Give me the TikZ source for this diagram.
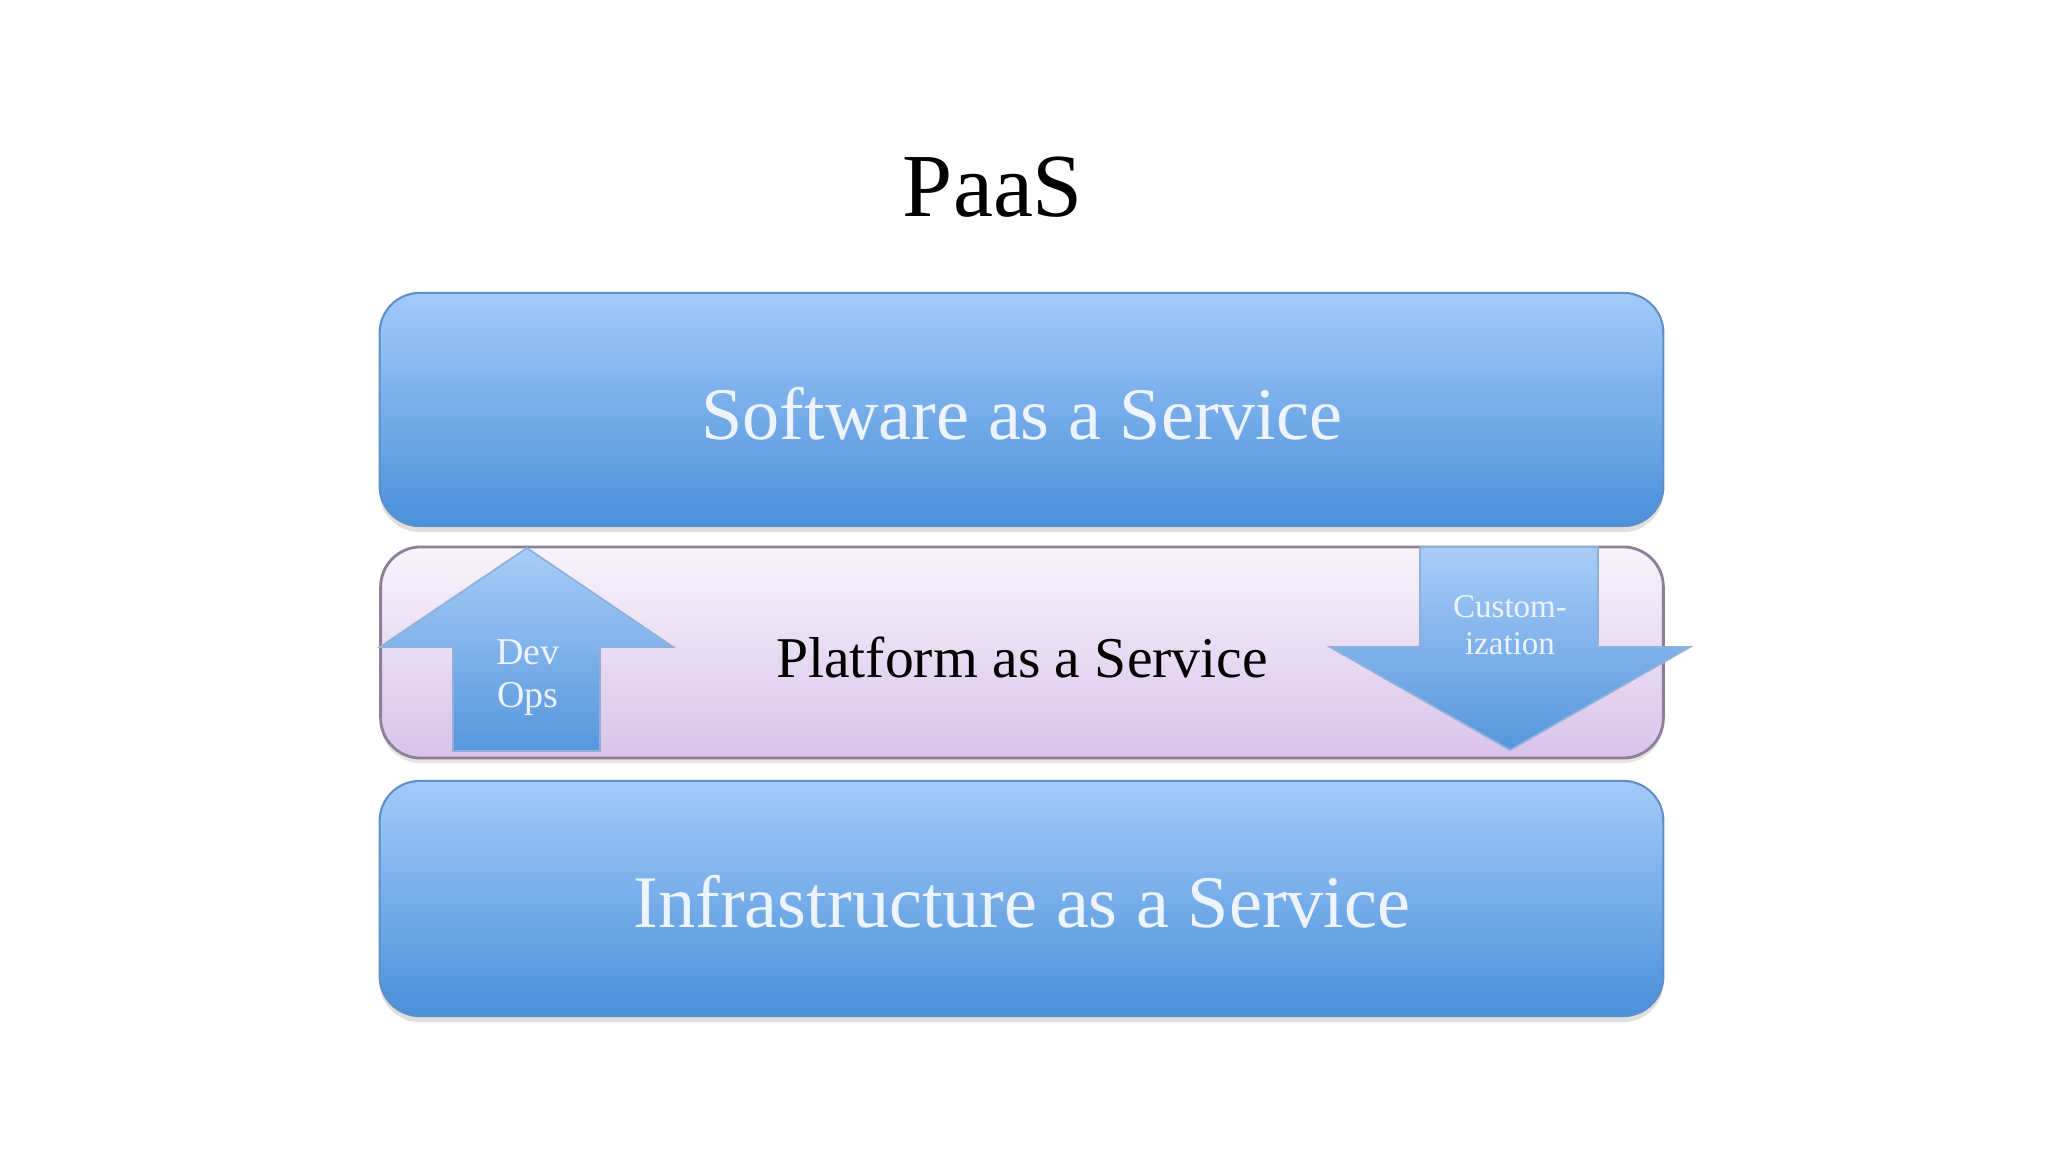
\documentclass[tikz,border=0pt]{standalone}
\usepackage{fontspec}
\setmainfont{Liberation Serif}
\usetikzlibrary{shadows}
\definecolor{bluetop}{HTML}{A3CAF9}
\definecolor{bluebot}{HTML}{4A90DA}
\definecolor{blueedge}{HTML}{5F8FC8}
\definecolor{lavtop}{HTML}{F8F4FB}
\definecolor{lavbot}{HTML}{D8C3EA}
\definecolor{lavedge}{HTML}{8C8098}
\definecolor{arrtop}{HTML}{A9CDF8}
\definecolor{arrbot}{HTML}{5596DD}
\definecolor{lighttext}{HTML}{EEF4FF}
\tikzset{
  layerbox/.style={rounded corners=0.4cm, draw=blueedge, line width=0.6pt,
    top color=bluetop, bottom color=bluebot, minimum width=12.83cm,
    text=lighttext, font=\fontsize{21.1}{24}\selectfont,
    drop shadow={opacity=0.25, shadow xshift=0pt, shadow yshift=-0.06cm}},
  midbox/.style={rounded corners=0.4cm, draw=lavedge, line width=0.8pt,
    top color=lavtop, bottom color=lavbot, minimum width=12.82cm,
    drop shadow={opacity=0.2, shadow xshift=0pt, shadow yshift=-0.05cm}},
  arrowshape/.style={draw=blueedge!70, line width=0.5pt, top color=arrtop, bottom color=arrbot},
  arrlabel/.style={text=lighttext, align=center}
}
\begin{document}
\begin{tikzpicture}[x=0.01cm, y=-0.01cm]
\useasboundingbox (0,0) rectangle (2048,1152);
\fill[white] (0,0) rectangle (2048,1152);

\node[font=\fontsize{25.6}{30}\selectfont] (title) at (993,187) {PaaS};

\node[layerbox, minimum height=2.33cm] (saas) at (1021.5,409.5) {};
\node[text=lighttext, font=\fontsize{21.1}{24}\selectfont] (saaslabel) at (1022,414) {Software as a Service};
\node[midbox, minimum height=2.11cm] (paas) at (1022,652.5) {};
\node[font=\fontsize{16.4}{20}\selectfont] (paaslabel) at (1022,657) {Platform as a Service};
\node[layerbox, minimum height=2.35cm] (iaas) at (1021.5,898.5) {};
\node[text=lighttext, font=\fontsize{21.1}{24}\selectfont] (iaaslabel) at (1022,902) {Infrastructure as a Service};

% DevOps arrow (up)
\path[arrowshape] (527,548) -- (673,647) -- (600,647) -- (600,751) -- (453,751) -- (453,647) -- (380,647) -- cycle;
\node[arrlabel, font=\fontsize{10.8}{12.2}\selectfont] (devops) at (528,678) {Dev\\Ops};

% Customization arrow (down)
\path[arrowshape] (1420,547) -- (1598,547) -- (1598,647) -- (1690,647) -- (1510,750) -- (1330,647) -- (1420,647) -- cycle;
\node[arrlabel, font=\fontsize{9.4}{10.5}\selectfont] (custom) at (1510,625) {Custom-\\ization};
\end{tikzpicture}
\end{document}
